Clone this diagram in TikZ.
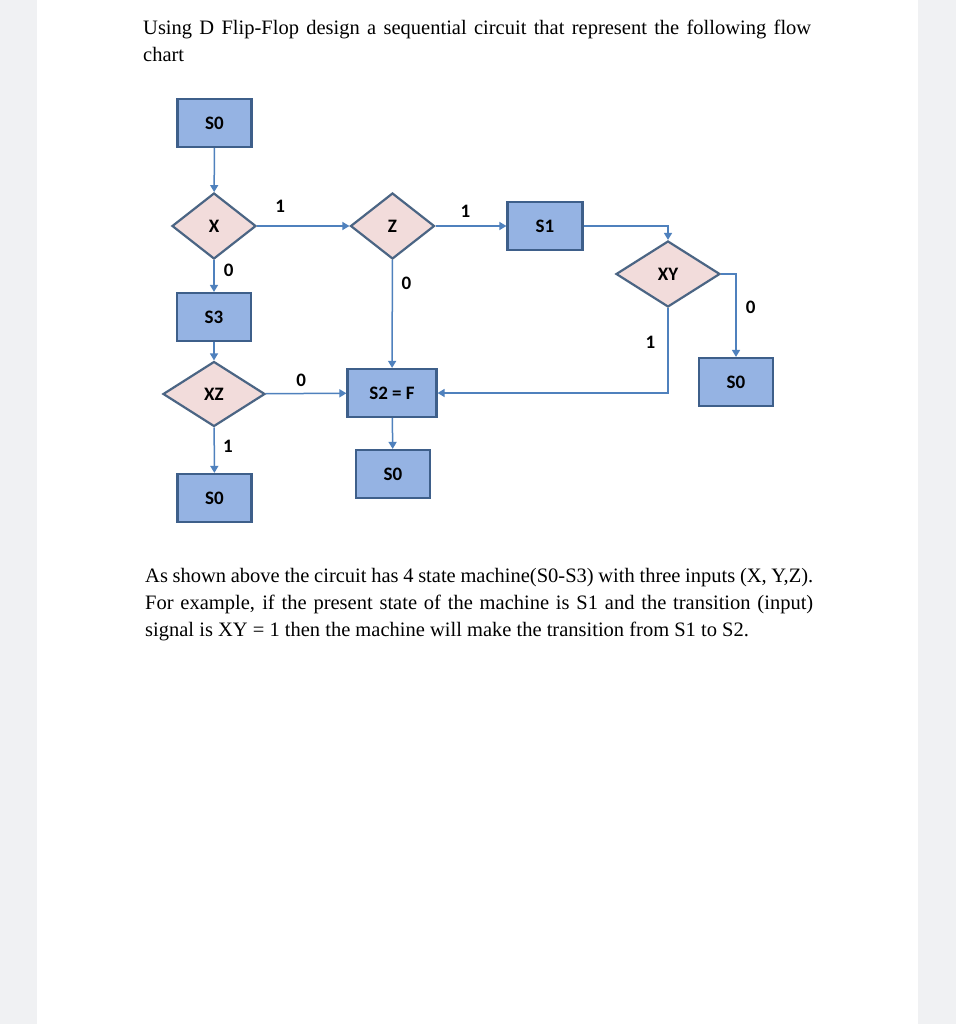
\documentclass[tikz,border=0pt]{standalone}
\usepackage{fontspec}
\setmainfont{Liberation Serif}
\newfontfamily\chartfont{Carlito}
\usetikzlibrary{arrows.meta}
\usetikzlibrary{shapes.geometric}
\definecolor{paper}{RGB}{240,241,243}
\definecolor{boxfill}{RGB}{149,179,227}
\definecolor{boxline}{RGB}{62,95,138}
\definecolor{askfill}{RGB}{242,220,219}
\definecolor{askline}{RGB}{75,101,132}
\definecolor{wire}{RGB}{79,129,189}

\begin{document}
\begin{tikzpicture}[
    x=1pt, y=-1pt,
    state/.style={
        rectangle, draw=boxline, fill=boxfill, line width=2.2pt,
        minimum width=74pt, minimum height=48pt, inner sep=0pt,
        font=\chartfont\bfseries\fontsize{19}{19}\selectfont
    },
    ask/.style={
        diamond, draw=askline, fill=askfill, line width=2.2pt,
        inner sep=0pt, minimum width=84pt, minimum height=66pt,
        font=\chartfont\bfseries\fontsize{19}{19}\selectfont
    },
    go/.style={
        draw=wire, line width=1.5pt,
        -{Triangle[width=8pt,length=7pt]}
    },
    lab/.style={
        inner sep=2pt, font=\chartfont\bfseries\fontsize{19}{19}\selectfont
    },
    para/.style={
        anchor=base west, inner sep=0pt, align=left,
        font=\fontsize{20.5}{27}\selectfont
    }
]
    \useasboundingbox (0,0) rectangle (956,1024);
    \fill[paper] (0,0) rectangle (956,1024);
    \fill[white] (37,0) rectangle (918,1024);

    \node (ask) [para] at (143,62) {%
        \makebox[668pt][s]{Using D Flip-Flop design a sequential circuit that represent the following flow}\\
        chart};

    % states and decisions
    \node (s0a) [state] at (214.5,123) {S0};
    \node (x) [ask] at (214,226) {X};
    \node (z) [ask] at (392.5,226) {Z};
    \node (s1) [state, minimum width=75pt] at (545,226) {S1};
    \node (xy) [ask, minimum width=104pt] at (668,274) {XY};
    \node (s0c) [state] at (736,382) {S0};
    \node (s3) [state] at (214,317) {S3};
    \node (xz) [ask, minimum width=102pt, minimum height=65pt] at (214,394) {XZ};
    \node (s2) [state, minimum width=89pt] at (392,393) {S2 = F};
    \node (s0b) [state] at (393,474) {S0};
    \node (s0d) [state] at (214.5,498) {S0};

    % transitions
    \draw[go] (s0a) -- (x);
    \draw[go] (x) -- node[lab, above=11pt, pos=.25] {1} (z);
    \draw[go] (z) -- node[lab, above=6pt, pos=.42] {1} (s1);
    \draw[go] (s1) -| (xy);
    \draw[go] (xy) -| node[lab, right=7pt, pos=.70] {0} (s0c);
    \draw[go] (xy) |- node[lab, left=10pt, pos=.2] {1} (s2);
    \draw[go] (z) -- node[lab, right=6.5pt, pos=.22] {0} (s2);
    \draw[go] (s2) -- (s0b);
    \draw[go] (x) -- node[lab, right=7pt, pos=.32] {0} (s3);
    \draw[go] (s3) -- (xz);
    \draw[go] (xz) -- node[lab, above=4pt, pos=.44] {0} (s2);
    \draw[go] (xz) -- node[lab, right=6pt, pos=.41] {1} (s0d);

    \node (note) [para] at (145,636) {%
        \makebox[668pt][s]{As shown above the circuit has 4 state machine(S0-S3) with three inputs (X, Y,Z).}\\
        \makebox[668pt][s]{For example, if the present state of the machine is S1 and the transition (input)}\\
        signal is XY = 1 then the machine will make the transition from S1 to S2.};
\end{tikzpicture}
\end{document}
